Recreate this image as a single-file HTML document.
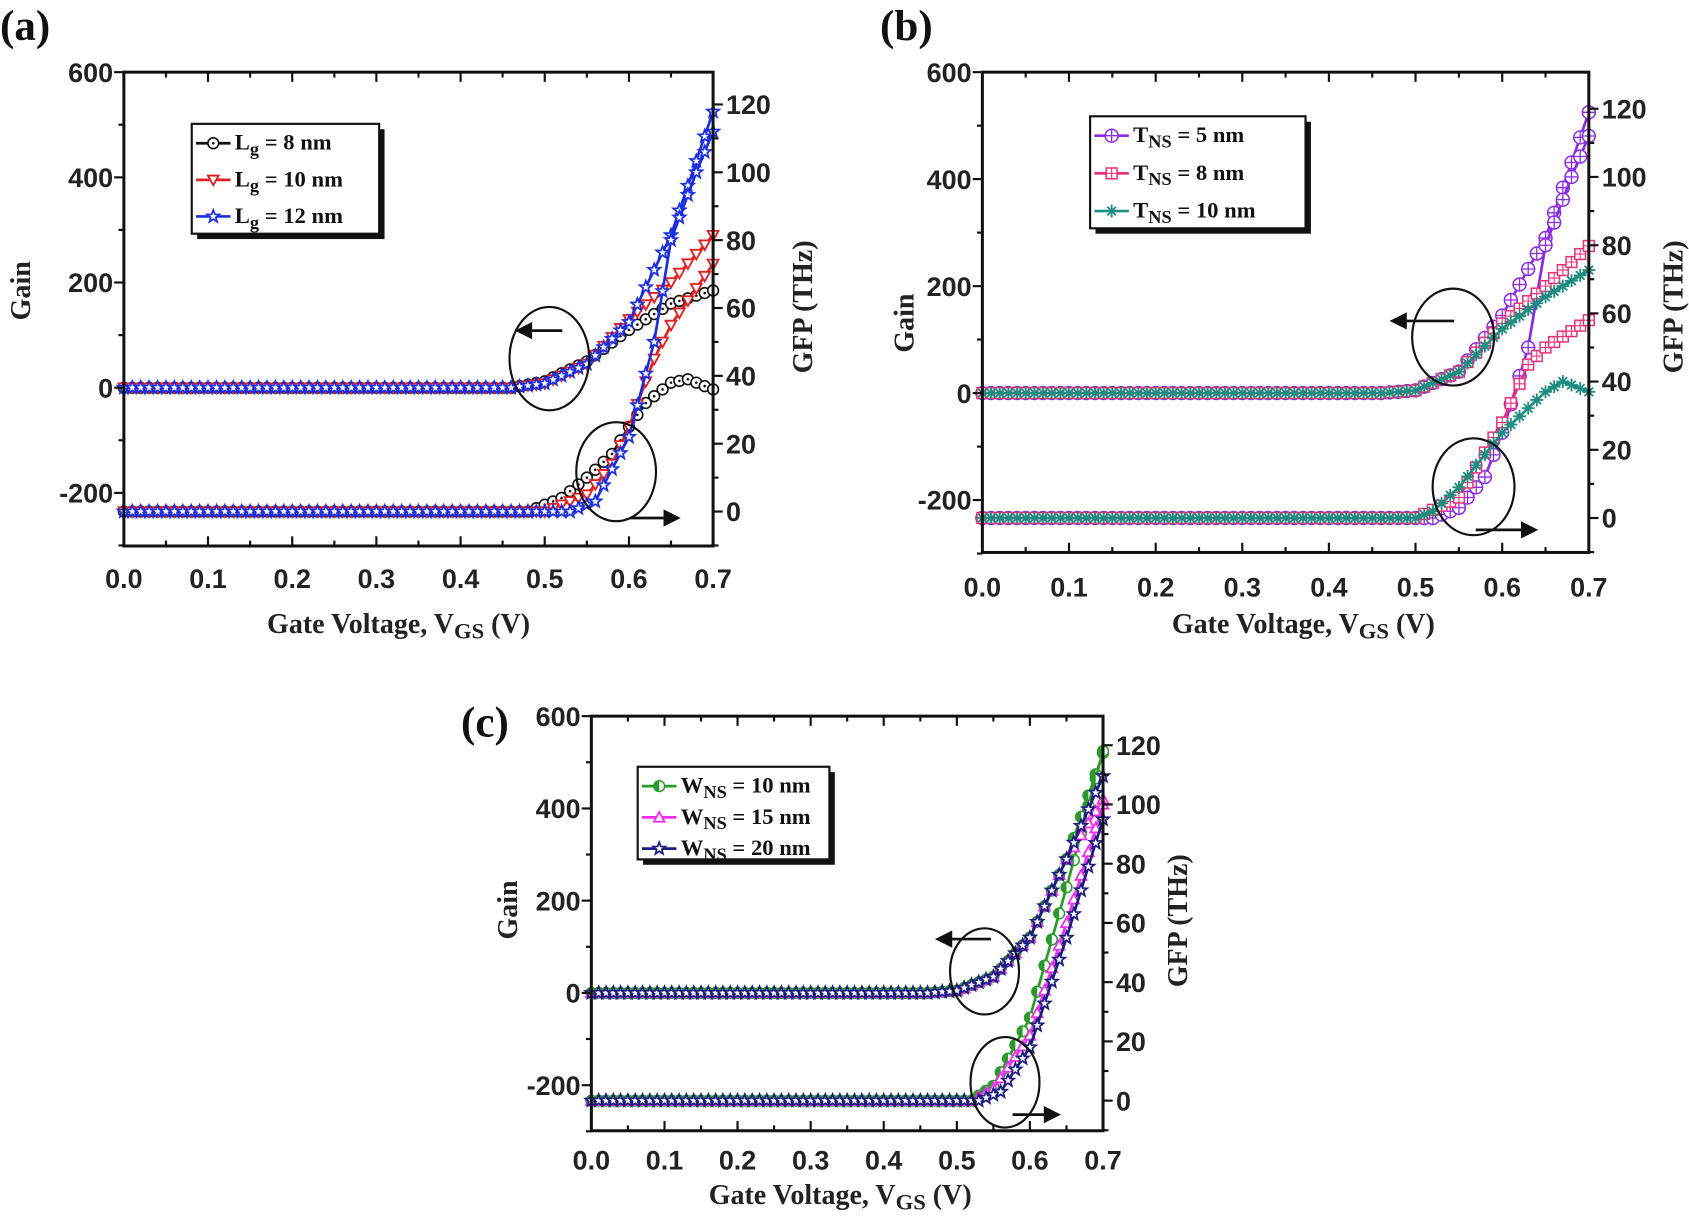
<!DOCTYPE html>
<html><head><meta charset="utf-8">
<style>
html,body{margin:0;padding:0;background:#fff;}
svg{display:block;}
.tk{font-family:"Liberation Sans",sans-serif;font-weight:bold;font-size:25px;fill:#222;}
.tt{font-family:"Liberation Serif",serif;font-weight:bold;font-size:26px;fill:#222;}
.lg{font-family:"Liberation Serif",serif;font-weight:bold;font-size:21px;fill:#111;}
.pl{font-family:"Liberation Serif",serif;font-weight:bold;font-size:40px;fill:#111;}
</style></head>
<body>
<div id="w"></div>
<script>
var out='';
function interp(a,x){if(x<=a[0][0])return a[0][1];for(var i=1;i<a.length;i++){if(x<=a[i][0]){var t=(x-a[i-1][0])/(a[i][0]-a[i-1][0]);return a[i-1][1]+t*(a[i][1]-a[i-1][1]);}}return a[a.length-1][1];}
function f1(v){return Math.round(v*10)/10;}
function marker(t,x,y,c){
 x=Number(x);y=Number(y);var r=5;
 if(t=='circ')return '<circle cx="'+x+'" cy="'+y+'" r="'+r+'" fill="#fff" stroke="'+c+'" stroke-width="1.5"/><circle cx="'+x+'" cy="'+y+'" r="1.2" fill="'+c+'"/>';
 if(t=='tri')return '<polygon points="'+(x-r)+','+(y-r+1)+' '+(x+r)+','+(y-r+1)+' '+x+','+(y+r)+'" fill="#fff" stroke="'+c+'" stroke-width="1.7"/>';
 if(t=='star'){var p='';for(var i=0;i<10;i++){var a=-Math.PI/2+i*Math.PI/5,rr=i%2?2.5:6;p+=f1(x+rr*Math.cos(a))+','+f1(y+rr*Math.sin(a))+' ';}return '<polygon points="'+p+'" fill="#fff" stroke="'+c+'" stroke-width="1.6"/>';}
 if(t=='cross')return '<circle cx="'+x+'" cy="'+y+'" r="'+(r+1)+'" fill="#fff" stroke="'+c+'" stroke-width="1.4"/><path d="M'+(x-r-1)+' '+y+'H'+(x+r+1)+'M'+x+' '+(y-r-1)+'V'+(y+r+1)+'" stroke="'+c+'" stroke-width="1.2"/>';
 if(t=='sq')return '<rect x="'+(x-r)+'" y="'+(y-r)+'" width="'+(2*r)+'" height="'+(2*r)+'" fill="#fff" stroke="'+c+'" stroke-width="1.4"/><path d="M'+(x-r)+' '+y+'H'+(x+r)+'M'+x+' '+(y-r)+'V'+(y+r)+'" stroke="'+c+'" stroke-width="1"/>';
 if(t=='ast')return '<path d="M'+(x-6)+' '+y+'H'+(x+6)+'M'+x+' '+(y-6)+'V'+(y+6)+'M'+(x-4)+' '+(y-4)+'L'+(x+4)+' '+(y+4)+'M'+(x-4)+' '+(y+4)+'L'+(x+4)+' '+(y-4)+'" stroke="'+c+'" stroke-width="1.7"/>';
 if(t=='half')return '<circle cx="'+x+'" cy="'+y+'" r="'+r+'" fill="#fff" stroke="'+c+'" stroke-width="1.4"/><path d="M'+x+' '+(y-r)+'A'+r+' '+r+' 0 0 0 '+x+' '+(y+r)+'Z" fill="'+c+'"/>';
 if(t=='utri')return '<polygon points="'+(x-r)+','+(y+r-1)+' '+(x+r)+','+(y+r-1)+' '+x+','+(y-r)+'" fill="#fff" stroke="'+c+'" stroke-width="1.7"/>';
 return '';
}
function panel(P){
 var L=P.L,R=P.R,T=P.T,B=P.B,l600=P.l600,l0=P.l0,r0=P.r0,r120=P.r120;
 function X(v){return L+(R-L)*v/0.7;}
 function YL(v){return l0-(l0-l600)*v/600;}
 function YR(v){return r0-(r0-r120)*v/120;}
 var s='';
 P.series.forEach(function(se){
  [[se.g,YL],[se.f,YR]].forEach(function(pair){
   var a=pair[0],Y=pair[1],pts=[];
   for(var i=0;i<=70;i++){var v=i/100;pts.push([f1(X(v)),f1(Y(interp(a,v)))]);}
   s+='<polyline points="'+pts.map(function(p){return p[0]+','+p[1];}).join(' ')+'" fill="none" stroke="'+se.c+'" stroke-width="2.5"/>';
   pts.forEach(function(p){s+=marker(se.m,p[0],p[1],se.c);});
  });
 });
 s+='<rect x="'+L+'" y="'+T+'" width="'+(R-L)+'" height="'+(B-T)+'" fill="none" stroke="#111" stroke-width="2.8"/>';
 for(var i=0;i<=14;i++){var x=f1(X(i*0.05)),len=i%2?5:9;
  s+='<line x1="'+x+'" y1="'+B+'" x2="'+x+'" y2="'+(B-len)+'" stroke="#111" stroke-width="2"/><line x1="'+x+'" y1="'+T+'" x2="'+x+'" y2="'+(T+len)+'" stroke="#111" stroke-width="2"/>';
  if(i%2==0)s+='<text class="tk" x="'+x+'" y="'+P.xl+'" text-anchor="middle">'+(i*0.05).toFixed(1)+'</text>';}
 for(var v=-300;v<=600;v+=100){var y=f1(YL(v)),len2=(v%200)?5:9;
  s+='<line x1="'+L+'" y1="'+y+'" x2="'+(L-len2)+'" y2="'+y+'" stroke="#111" stroke-width="2"/>';
  if(v%200==0)s+='<text class="tk" x="'+(L-10)+'" y="'+(y+9)+'" text-anchor="end">'+v+'</text>';}
 for(var v2=-10;v2<=120;v2+=10){var y2=f1(YR(v2));if(y2<T)continue;var len3=(v2%20)?5:9;
  s+='<line x1="'+R+'" y1="'+y2+'" x2="'+(R+len3)+'" y2="'+y2+'" stroke="#111" stroke-width="2"/>';
  if(v2%20==0&&v2>=0)s+='<text class="tk" x="'+(R+12)+'" y="'+(y2+9)+'">'+v2+'</text>';}
 s+='<text class="tt" x="'+P.xt+'" y="'+P.xty+'" text-anchor="middle">Gate Voltage, V<tspan font-size="21" dy="5">GS</tspan><tspan dy="-5"> (V)</tspan></text>';
 s+='<text class="tt" transform="translate('+P.gx+','+P.gy+') rotate(-90)" text-anchor="middle">Gain</text>';
 s+='<text class="tt" transform="translate('+P.fx+','+P.fy+') rotate(-90)" text-anchor="middle">GFP (THz)</text>';
 P.ann.forEach(function(a){
  s+='<ellipse cx="'+a[0]+'" cy="'+a[1]+'" rx="'+a[2]+'" ry="'+a[3]+'" fill="none" stroke="#111" stroke-width="2"/>';
  var x1=a[4][0],yy=a[4][1],x2=a[4][2],d=x2>x1?1:-1;
  s+='<line x1="'+x1+'" y1="'+yy+'" x2="'+(x2-d*14)+'" y2="'+yy+'" stroke="#111" stroke-width="2.5"/><polygon points="'+x2+','+yy+' '+(x2-d*16)+','+(yy-8)+' '+(x2-d*16)+','+(yy+8)+'" fill="#111"/>';
 });
 var g=P.leg;
 s+='<rect x="'+(g.x+5)+'" y="'+(g.y+5)+'" width="'+g.w+'" height="'+g.h+'" fill="#111"/><rect x="'+g.x+'" y="'+g.y+'" width="'+g.w+'" height="'+g.h+'" fill="#fff" stroke="#111" stroke-width="2"/>';
 P.series.forEach(function(se,i){var y=g.y+18+i*g.dy;
  s+='<line x1="'+(g.x+4)+'" y1="'+y+'" x2="'+(g.x+36)+'" y2="'+y+'" stroke="'+se.c+'" stroke-width="2.5"/>'+marker(se.m,g.x+20,y,se.c)+'<text class="lg" x="'+(g.x+40)+'" y="'+(y+6)+'">'+se.n[0]+'<tspan font-size="17" dy="5">'+se.n[1]+'</tspan><tspan dy="-5">'+se.n[2]+'</tspan></text>';});
 out+=s;
}
var z=[[0,0],[0.46,0]];
var panels=[
{L:115,R:662,T:67,B:507,l600:67,l0:360,r0:475,r120:97,xl:546,xt:370,xty:588,gx:28,gy:270,fx:754,fy:285,
 ann:[[510,333,37,48,[522,307,478]],[572,438,37,46,[585,481,632]]],
 leg:{x:178,y:115,w:174,h:102,dy:34},
 series:[
 {c:'#111',m:'circ',n:['L','g',' = 8 nm'],g:z.concat([[0.5,12],[0.55,50],[0.6,110],[0.65,160],[0.7,185]]),f:[[0,0],[0.48,0],[0.52,4],[0.55,10],[0.58,17],[0.6,25],[0.62,32],[0.65,38],[0.67,39],[0.7,36]]},
 {c:'#e02020',m:'tri',n:['L','g',' = 10 nm'],g:z.concat([[0.5,8],[0.55,45],[0.6,130],[0.65,200],[0.7,290]]),f:[[0,0],[0.5,0],[0.55,5],[0.58,14],[0.6,25],[0.63,45],[0.65,55],[0.7,73]]},
 {c:'#1a2ee0',m:'star',n:['L','g',' = 12 nm'],g:z.concat([[0.5,8],[0.55,45],[0.6,125],[0.65,290],[0.7,525]]),f:[[0,0],[0.53,0],[0.56,3],[0.6,22],[0.63,50],[0.65,80],[0.68,100],[0.7,112]]}]},
{L:912,R:1475,T:67,B:513,l600:67,l0:365,r0:481,r120:101,xl:554,xt:1210,xty:588,gx:848,gy:300,fx:1562,fy:285,
 ann:[[1349,313,38,45,[1350,298,1290]],[1368,452,38,45,[1370,492,1428]]],
 leg:{x:1012,y:108,w:200,h:104,dy:35},
 series:[
 {c:'#8a2be2',m:'cross',n:['T','NS',' = 5 nm'],g:z.concat([[0.5,5],[0.55,40],[0.6,145],[0.65,290],[0.7,525]]),f:[[0,0],[0.52,0],[0.55,3],[0.58,12],[0.6,25],[0.63,50],[0.65,80],[0.68,100],[0.7,112]]},
 {c:'#e8307a',m:'sq',n:['T','NS',' = 8 nm'],g:z.concat([[0.5,5],[0.55,40],[0.6,130],[0.65,200],[0.7,275]]),f:[[0,0],[0.5,0],[0.55,6],[0.6,28],[0.63,45],[0.65,50],[0.7,58]]},
 {c:'#1e8c80',m:'ast',n:['T','NS',' = 10 nm'],g:z.concat([[0.5,5],[0.55,40],[0.6,120],[0.65,180],[0.7,230]]),f:[[0,0],[0.5,0],[0.52,2],[0.55,9],[0.6,25],[0.65,37],[0.67,40],[0.7,37]]}]},
{L:549,R:1024,T:665,B:1050,l600:665,l0:922,r0:1022,r120:692,xl:1086,xt:780,xty:1118,gx:480,gy:845,fx:1102,fy:855,
 ann:[[914,902,32,40,[920,872,868]],[933,1005,32,42,[940,1035,985]]],
 leg:{x:592,y:712,w:178,h:86,dy:29},
 series:[
 {c:'#2a9a2a',m:'half',n:['W','NS',' = 10 nm'],g:z.concat([[0.5,5],[0.55,35],[0.6,120],[0.65,290],[0.7,520]]),f:[[0,0],[0.52,0],[0.55,5],[0.6,28],[0.65,72],[0.7,118]]},
 {c:'#ee30ee',m:'utri',n:['W','NS',' = 15 nm'],g:z.concat([[0.5,5],[0.55,35],[0.6,120],[0.65,290],[0.7,420]]),f:[[0,0],[0.52,0],[0.55,4],[0.6,22],[0.65,60],[0.7,100]]},
 {c:'#1c1c80',m:'star',n:['W','NS',' = 20 nm'],g:z.concat([[0.5,5],[0.55,35],[0.6,120],[0.65,290],[0.7,470]]),f:[[0,0],[0.53,0],[0.56,3],[0.6,18],[0.65,55],[0.7,95]]}]}
];
for(var k=0;k<panels.length;k++){try{panel(panels[k]);}catch(e){out+='<text x="10" y="'+(300+k*30)+'">'+String(e)+'</text>';}}
document.getElementById('w').innerHTML='<svg width="1689" height="1218" viewBox="0 0 1568 1131" preserveAspectRatio="none" xmlns="http://www.w3.org/2000/svg">'+
'<text class="pl" x="0" y="37">(a)</text><text class="pl" x="817" y="37">(b)</text><text class="pl" x="428" y="684">(c)</text>'+out+'</svg>';
</script>
</body></html>
